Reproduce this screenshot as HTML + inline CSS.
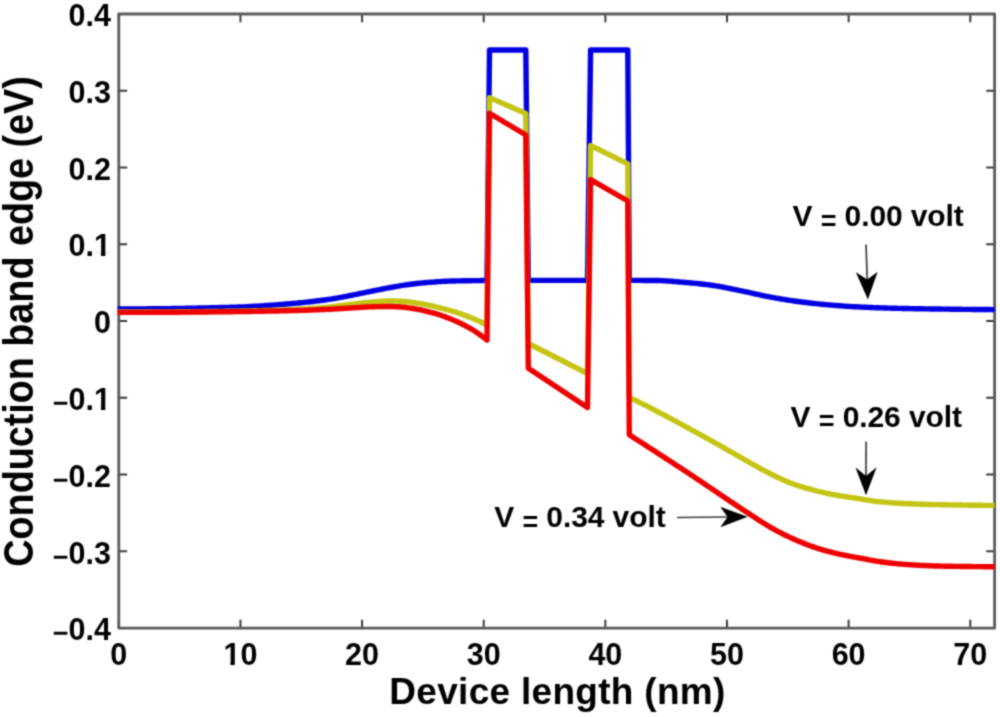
<!DOCTYPE html>
<html><head><meta charset="utf-8"><style>
html,body{margin:0;padding:0;background:#fff;}
svg{display:block;}
text{font-family:"Liberation Sans",Arial,Helvetica,sans-serif;font-weight:bold;fill:#000;}
</style></head><body>
<svg width="1000" height="717" viewBox="0 0 1000 717">
<defs><filter id="soft" filterUnits="userSpaceOnUse" x="0" y="0" width="1000" height="717" color-interpolation-filters="sRGB"><feConvolveMatrix order="3" kernelMatrix="0.0439 0.1217 0.0439 0.1217 0.3377 0.1217 0.0439 0.1217 0.0439" edgeMode="duplicate"/></filter></defs>
<g filter="url(#soft)">
<rect x="0" y="0" width="1000" height="717" fill="#fff"/>
<g stroke="#3a3a3a" stroke-width="2.0" stroke-linecap="round" fill="none">
<line x1="118.80" y1="628.1" x2="118.80" y2="620.5"/><line x1="118.80" y1="14.0" x2="118.80" y2="21.6"/><line x1="240.44" y1="628.1" x2="240.44" y2="620.5"/><line x1="240.44" y1="14.0" x2="240.44" y2="21.6"/><line x1="362.08" y1="628.1" x2="362.08" y2="620.5"/><line x1="362.08" y1="14.0" x2="362.08" y2="21.6"/><line x1="483.72" y1="628.1" x2="483.72" y2="620.5"/><line x1="483.72" y1="14.0" x2="483.72" y2="21.6"/><line x1="605.36" y1="628.1" x2="605.36" y2="620.5"/><line x1="605.36" y1="14.0" x2="605.36" y2="21.6"/><line x1="726.99" y1="628.1" x2="726.99" y2="620.5"/><line x1="726.99" y1="14.0" x2="726.99" y2="21.6"/><line x1="848.63" y1="628.1" x2="848.63" y2="620.5"/><line x1="848.63" y1="14.0" x2="848.63" y2="21.6"/><line x1="970.27" y1="628.1" x2="970.27" y2="620.5"/><line x1="970.27" y1="14.0" x2="970.27" y2="21.6"/><line x1="118.8" y1="14.00" x2="126.40" y2="14.00"/><line x1="994.6" y1="14.00" x2="987.00" y2="14.00"/><line x1="118.8" y1="90.76" x2="126.40" y2="90.76"/><line x1="994.6" y1="90.76" x2="987.00" y2="90.76"/><line x1="118.8" y1="167.53" x2="126.40" y2="167.53"/><line x1="994.6" y1="167.53" x2="987.00" y2="167.53"/><line x1="118.8" y1="244.29" x2="126.40" y2="244.29"/><line x1="994.6" y1="244.29" x2="987.00" y2="244.29"/><line x1="118.8" y1="321.05" x2="126.40" y2="321.05"/><line x1="994.6" y1="321.05" x2="987.00" y2="321.05"/><line x1="118.8" y1="397.81" x2="126.40" y2="397.81"/><line x1="994.6" y1="397.81" x2="987.00" y2="397.81"/><line x1="118.8" y1="474.58" x2="126.40" y2="474.58"/><line x1="994.6" y1="474.58" x2="987.00" y2="474.58"/><line x1="118.8" y1="551.34" x2="126.40" y2="551.34"/><line x1="994.6" y1="551.34" x2="987.00" y2="551.34"/><line x1="118.8" y1="628.10" x2="126.40" y2="628.10"/><line x1="994.6" y1="628.10" x2="987.00" y2="628.10"/>
</g>
<rect x="118.8" y="14.0" width="875.80" height="614.10" stroke-linejoin="round" stroke="#5a5a5a" stroke-width="2.8" fill="none"/>
<g fill="none" stroke-width="5.4" stroke-linejoin="round" stroke-linecap="butt">
<path d="M117.60,309.00 L119.61,309.00 L121.62,308.99 L123.62,308.98 L125.63,308.98 L127.64,308.97 L129.65,308.96 L131.65,308.94 L133.66,308.93 L135.67,308.92 L137.68,308.90 L139.68,308.89 L141.69,308.87 L143.70,308.85 L145.71,308.84 L147.71,308.82 L149.72,308.80 L151.73,308.78 L153.74,308.76 L155.74,308.74 L157.75,308.72 L159.76,308.70 L161.77,308.68 L163.77,308.66 L165.78,308.63 L167.79,308.60 L169.80,308.58 L171.81,308.54 L173.81,308.51 L175.82,308.48 L177.83,308.44 L179.84,308.41 L181.84,308.37 L183.85,308.33 L185.86,308.29 L187.87,308.25 L189.87,308.21 L191.88,308.17 L193.89,308.13 L195.90,308.08 L197.90,308.04 L199.91,308.00 L201.92,307.96 L203.93,307.92 L205.93,307.88 L207.94,307.84 L209.95,307.80 L211.96,307.75 L213.97,307.71 L215.97,307.67 L217.98,307.62 L219.99,307.57 L222.00,307.53 L224.00,307.48 L226.01,307.42 L228.02,307.37 L230.03,307.32 L232.03,307.26 L234.04,307.20 L236.05,307.13 L238.06,307.07 L240.06,307.00 L242.07,306.92 L244.08,306.84 L246.09,306.75 L248.09,306.65 L250.10,306.55 L252.11,306.44 L254.12,306.32 L256.12,306.20 L258.13,306.08 L260.14,305.95 L262.15,305.82 L264.16,305.69 L266.16,305.56 L268.17,305.42 L270.18,305.29 L272.19,305.15 L274.19,305.01 L276.20,304.86 L278.21,304.71 L280.22,304.55 L282.22,304.39 L284.23,304.23 L286.24,304.06 L288.25,303.89 L290.25,303.71 L292.26,303.53 L294.27,303.35 L296.28,303.16 L298.28,302.97 L300.29,302.77 L302.30,302.57 L304.31,302.37 L306.32,302.15 L308.32,301.94 L310.33,301.72 L312.34,301.49 L314.35,301.26 L316.35,301.02 L318.36,300.77 L320.37,300.52 L322.38,300.26 L324.38,299.99 L326.39,299.71 L328.40,299.43 L330.41,299.14 L332.41,298.83 L334.42,298.50 L336.43,298.16 L338.44,297.80 L340.44,297.43 L342.45,297.05 L344.46,296.67 L346.47,296.28 L348.48,295.89 L350.48,295.51 L352.49,295.11 L354.50,294.71 L356.51,294.30 L358.51,293.88 L360.52,293.46 L362.53,293.04 L364.54,292.62 L366.54,292.20 L368.55,291.79 L370.56,291.39 L372.57,290.99 L374.57,290.58 L376.58,290.18 L378.59,289.78 L380.60,289.38 L382.60,288.99 L384.61,288.60 L386.62,288.22 L388.63,287.85 L390.63,287.49 L392.64,287.12 L394.65,286.76 L396.66,286.40 L398.67,286.05 L400.67,285.70 L402.68,285.37 L404.69,285.05 L406.70,284.75 L408.70,284.47 L410.71,284.21 L412.72,283.97 L414.73,283.74 L416.73,283.52 L418.74,283.30 L420.75,283.10 L422.76,282.91 L424.76,282.73 L426.77,282.56 L428.78,282.39 L430.79,282.24 L432.79,282.09 L434.80,281.94 L436.81,281.80 L438.82,281.66 L440.83,281.54 L442.83,281.42 L444.84,281.31 L446.85,281.22 L448.86,281.14 L450.86,281.07 L452.87,281.02 L454.88,280.97 L456.89,280.92 L458.89,280.88 L460.90,280.85 L462.91,280.81 L464.92,280.78 L466.92,280.75 L468.93,280.72 L470.94,280.69 L472.95,280.66 L474.95,280.63 L476.96,280.60 L478.97,280.58 L480.98,280.56 L482.98,280.54 L484.99,280.52 L487.00,280.50 L489.50,50.00 L525.80,50.00 L528.30,280.40 L587.50,280.40 L590.60,50.00 L627.80,50.00 L629.30,280.40 L631.31,280.40 L633.31,280.40 L635.32,280.41 L637.33,280.41 L639.34,280.41 L641.34,280.42 L643.35,280.43 L645.36,280.44 L647.36,280.45 L649.37,280.46 L651.38,280.47 L653.39,280.48 L655.39,280.50 L657.40,280.52 L659.41,280.57 L661.41,280.65 L663.42,280.75 L665.43,280.87 L667.44,281.00 L669.44,281.15 L671.45,281.31 L673.46,281.47 L675.46,281.64 L677.47,281.80 L679.48,281.96 L681.49,282.11 L683.49,282.27 L685.50,282.44 L687.51,282.61 L689.51,282.78 L691.52,282.97 L693.53,283.15 L695.54,283.35 L697.54,283.55 L699.55,283.76 L701.56,283.98 L703.56,284.21 L705.57,284.45 L707.58,284.69 L709.59,284.95 L711.59,285.22 L713.60,285.51 L715.61,285.83 L717.61,286.16 L719.62,286.52 L721.63,286.89 L723.64,287.27 L725.64,287.67 L727.65,288.07 L729.66,288.48 L731.66,288.90 L733.67,289.31 L735.68,289.72 L737.69,290.13 L739.69,290.54 L741.70,290.94 L743.71,291.36 L745.71,291.79 L747.72,292.23 L749.73,292.68 L751.74,293.13 L753.74,293.58 L755.75,294.03 L757.76,294.48 L759.76,294.92 L761.77,295.35 L763.78,295.78 L765.79,296.19 L767.79,296.58 L769.80,296.96 L771.81,297.33 L773.81,297.69 L775.82,298.05 L777.83,298.40 L779.84,298.74 L781.84,299.08 L783.85,299.42 L785.86,299.74 L787.86,300.06 L789.87,300.37 L791.88,300.68 L793.89,300.97 L795.89,301.25 L797.90,301.53 L799.91,301.79 L801.91,302.04 L803.92,302.29 L805.93,302.54 L807.94,302.78 L809.94,303.01 L811.95,303.24 L813.96,303.46 L815.96,303.68 L817.97,303.88 L819.98,304.09 L821.99,304.28 L823.99,304.47 L826.00,304.66 L828.01,304.83 L830.01,305.00 L832.02,305.16 L834.03,305.32 L836.04,305.48 L838.04,305.63 L840.05,305.78 L842.06,305.93 L844.06,306.07 L846.07,306.20 L848.08,306.34 L850.09,306.46 L852.09,306.58 L854.10,306.70 L856.11,306.81 L858.11,306.91 L860.12,307.01 L862.13,307.10 L864.14,307.19 L866.14,307.28 L868.15,307.36 L870.16,307.45 L872.16,307.53 L874.17,307.61 L876.18,307.69 L878.19,307.76 L880.19,307.83 L882.20,307.90 L884.21,307.97 L886.21,308.03 L888.22,308.09 L890.23,308.15 L892.24,308.21 L894.24,308.26 L896.25,308.31 L898.26,308.36 L900.26,308.41 L902.27,308.45 L904.28,308.49 L906.29,308.53 L908.29,308.57 L910.30,308.61 L912.31,308.64 L914.31,308.68 L916.32,308.72 L918.33,308.75 L920.34,308.78 L922.34,308.82 L924.35,308.85 L926.36,308.88 L928.36,308.91 L930.37,308.94 L932.38,308.97 L934.39,308.99 L936.39,309.02 L938.40,309.05 L940.41,309.07 L942.41,309.10 L944.42,309.12 L946.43,309.15 L948.44,309.17 L950.44,309.19 L952.45,309.22 L954.46,309.24 L956.46,309.26 L958.47,309.28 L960.48,309.31 L962.49,309.33 L964.49,309.35 L966.50,309.37 L968.51,309.39 L970.51,309.41 L972.52,309.43 L974.53,309.44 L976.54,309.46 L978.54,309.48 L980.55,309.50 L982.56,309.51 L984.56,309.53 L986.57,309.54 L988.58,309.56 L990.59,309.57 L992.59,309.59 L994.60,309.60" stroke="#0000e2"/>
<path d="M117.60,312.00 L119.61,312.00 L121.62,312.00 L123.62,312.00 L125.63,312.00 L127.64,311.99 L129.65,311.99 L131.65,311.99 L133.66,311.98 L135.67,311.98 L137.68,311.97 L139.68,311.97 L141.69,311.96 L143.70,311.96 L145.71,311.95 L147.71,311.94 L149.72,311.94 L151.73,311.93 L153.74,311.92 L155.74,311.92 L157.75,311.91 L159.76,311.90 L161.77,311.89 L163.77,311.88 L165.78,311.87 L167.79,311.86 L169.80,311.85 L171.81,311.84 L173.81,311.83 L175.82,311.81 L177.83,311.80 L179.84,311.78 L181.84,311.76 L183.85,311.75 L185.86,311.73 L187.87,311.71 L189.87,311.69 L191.88,311.68 L193.89,311.66 L195.90,311.64 L197.90,311.62 L199.91,311.60 L201.92,311.58 L203.93,311.56 L205.93,311.54 L207.94,311.52 L209.95,311.50 L211.96,311.48 L213.97,311.46 L215.97,311.43 L217.98,311.41 L219.99,311.39 L222.00,311.36 L224.00,311.34 L226.01,311.31 L228.02,311.28 L230.03,311.25 L232.03,311.22 L234.04,311.19 L236.05,311.16 L238.06,311.13 L240.06,311.10 L242.07,311.06 L244.08,311.03 L246.09,310.99 L248.09,310.95 L250.10,310.91 L252.11,310.86 L254.12,310.82 L256.12,310.77 L258.13,310.72 L260.14,310.67 L262.15,310.62 L264.16,310.57 L266.16,310.51 L268.17,310.45 L270.18,310.39 L272.19,310.33 L274.19,310.27 L276.20,310.20 L278.21,310.14 L280.22,310.07 L282.22,309.99 L284.23,309.91 L286.24,309.83 L288.25,309.75 L290.25,309.66 L292.26,309.58 L294.27,309.48 L296.28,309.39 L298.28,309.29 L300.29,309.18 L302.30,309.08 L304.31,308.96 L306.32,308.85 L308.32,308.72 L310.33,308.59 L312.34,308.45 L314.35,308.31 L316.35,308.16 L318.36,308.01 L320.37,307.85 L322.38,307.68 L324.38,307.51 L326.39,307.33 L328.40,307.15 L330.41,306.96 L332.41,306.75 L334.42,306.51 L336.43,306.25 L338.44,305.97 L340.44,305.69 L342.45,305.40 L344.46,305.12 L346.47,304.84 L348.48,304.58 L350.48,304.34 L352.49,304.11 L354.50,303.87 L356.51,303.64 L358.51,303.40 L360.52,303.17 L362.53,302.95 L364.54,302.73 L366.54,302.53 L368.55,302.33 L370.56,302.15 L372.57,301.98 L374.57,301.83 L376.58,301.69 L378.59,301.54 L380.60,301.40 L382.60,301.26 L384.61,301.15 L386.62,301.06 L388.63,301.01 L390.63,301.00 L392.64,301.02 L394.65,301.05 L396.66,301.10 L398.67,301.16 L400.67,301.22 L402.68,301.33 L404.69,301.49 L406.70,301.69 L408.70,301.93 L410.71,302.19 L412.72,302.48 L414.73,302.78 L416.73,303.09 L418.74,303.40 L420.75,303.72 L422.76,304.06 L424.76,304.43 L426.77,304.83 L428.78,305.26 L430.79,305.71 L432.79,306.17 L434.80,306.64 L436.81,307.13 L438.82,307.61 L440.83,308.10 L442.83,308.60 L444.84,309.12 L446.85,309.65 L448.86,310.20 L450.86,310.77 L452.87,311.36 L454.88,311.96 L456.89,312.59 L458.89,313.25 L460.90,313.93 L462.91,314.63 L464.92,315.36 L466.92,316.11 L468.93,316.88 L470.94,317.68 L472.95,318.50 L474.95,319.35 L476.96,320.23 L478.97,321.13 L480.98,322.06 L482.98,323.02 L484.99,324.00 L487.00,325.00 L489.50,97.60 L525.80,113.50 L528.30,343.50 L587.50,373.50 L590.60,145.50 L627.80,163.80 L629.30,397.30 L631.31,398.29 L633.31,399.29 L635.32,400.29 L637.33,401.29 L639.34,402.30 L641.34,403.32 L643.35,404.33 L645.36,405.35 L647.36,406.37 L649.37,407.40 L651.38,408.43 L653.39,409.47 L655.39,410.50 L657.40,411.55 L659.41,412.59 L661.41,413.64 L663.42,414.69 L665.43,415.75 L667.44,416.82 L669.44,417.89 L671.45,418.96 L673.46,420.04 L675.46,421.12 L677.47,422.20 L679.48,423.29 L681.49,424.38 L683.49,425.46 L685.50,426.55 L687.51,427.65 L689.51,428.74 L691.52,429.83 L693.53,430.92 L695.54,432.01 L697.54,433.11 L699.55,434.21 L701.56,435.31 L703.56,436.41 L705.57,437.52 L707.58,438.62 L709.59,439.74 L711.59,440.85 L713.60,441.98 L715.61,443.10 L717.61,444.24 L719.62,445.38 L721.63,446.52 L723.64,447.67 L725.64,448.83 L727.65,449.98 L729.66,451.13 L731.66,452.28 L733.67,453.43 L735.68,454.58 L737.69,455.72 L739.69,456.86 L741.70,458.00 L743.71,459.15 L745.71,460.30 L747.72,461.44 L749.73,462.59 L751.74,463.73 L753.74,464.86 L755.75,465.98 L757.76,467.09 L759.76,468.19 L761.77,469.28 L763.78,470.35 L765.79,471.41 L767.79,472.46 L769.80,473.50 L771.81,474.51 L773.81,475.51 L775.82,476.49 L777.83,477.47 L779.84,478.43 L781.84,479.37 L783.85,480.28 L785.86,481.14 L787.86,481.96 L789.87,482.76 L791.88,483.54 L793.89,484.28 L795.89,484.99 L797.90,485.67 L799.91,486.31 L801.91,486.93 L803.92,487.52 L805.93,488.10 L807.94,488.65 L809.94,489.18 L811.95,489.71 L813.96,490.24 L815.96,490.75 L817.97,491.26 L819.98,491.75 L821.99,492.24 L823.99,492.71 L826.00,493.16 L828.01,493.60 L830.01,494.01 L832.02,494.40 L834.03,494.78 L836.04,495.13 L838.04,495.47 L840.05,495.80 L842.06,496.11 L844.06,496.42 L846.07,496.72 L848.08,497.02 L850.09,497.31 L852.09,497.61 L854.10,497.91 L856.11,498.22 L858.11,498.53 L860.12,498.86 L862.13,499.20 L864.14,499.54 L866.14,499.87 L868.15,500.21 L870.16,500.53 L872.16,500.83 L874.17,501.12 L876.18,501.38 L878.19,501.62 L880.19,501.82 L882.20,502.00 L884.21,502.18 L886.21,502.35 L888.22,502.51 L890.23,502.66 L892.24,502.81 L894.24,502.95 L896.25,503.08 L898.26,503.20 L900.26,503.32 L902.27,503.43 L904.28,503.54 L906.29,503.64 L908.29,503.73 L910.30,503.81 L912.31,503.89 L914.31,503.97 L916.32,504.05 L918.33,504.12 L920.34,504.19 L922.34,504.25 L924.35,504.32 L926.36,504.38 L928.36,504.43 L930.37,504.49 L932.38,504.54 L934.39,504.58 L936.39,504.63 L938.40,504.67 L940.41,504.71 L942.41,504.75 L944.42,504.78 L946.43,504.82 L948.44,504.86 L950.44,504.89 L952.45,504.93 L954.46,504.96 L956.46,505.00 L958.47,505.03 L960.48,505.06 L962.49,505.09 L964.49,505.12 L966.50,505.15 L968.51,505.18 L970.51,505.21 L972.52,505.24 L974.53,505.26 L976.54,505.28 L978.54,505.30 L980.55,505.32 L982.56,505.34 L984.56,505.35 L986.57,505.37 L988.58,505.38 L990.59,505.39 L992.59,505.40 L994.60,505.40" stroke="#c4c414"/>
<path d="M117.60,312.40 L119.61,312.40 L121.62,312.40 L123.62,312.40 L125.63,312.40 L127.64,312.39 L129.65,312.39 L131.65,312.39 L133.66,312.38 L135.67,312.38 L137.68,312.37 L139.68,312.37 L141.69,312.36 L143.70,312.36 L145.71,312.35 L147.71,312.34 L149.72,312.34 L151.73,312.33 L153.74,312.32 L155.74,312.32 L157.75,312.31 L159.76,312.30 L161.77,312.29 L163.77,312.28 L165.78,312.27 L167.79,312.26 L169.80,312.25 L171.81,312.24 L173.81,312.22 L175.82,312.21 L177.83,312.19 L179.84,312.18 L181.84,312.16 L183.85,312.14 L185.86,312.12 L187.87,312.11 L189.87,312.09 L191.88,312.07 L193.89,312.05 L195.90,312.04 L197.90,312.02 L199.91,312.00 L201.92,311.98 L203.93,311.97 L205.93,311.95 L207.94,311.93 L209.95,311.91 L211.96,311.90 L213.97,311.88 L215.97,311.86 L217.98,311.84 L219.99,311.82 L222.00,311.80 L224.00,311.78 L226.01,311.76 L228.02,311.74 L230.03,311.72 L232.03,311.70 L234.04,311.67 L236.05,311.65 L238.06,311.62 L240.06,311.60 L242.07,311.57 L244.08,311.55 L246.09,311.52 L248.09,311.49 L250.10,311.46 L252.11,311.42 L254.12,311.39 L256.12,311.36 L258.13,311.32 L260.14,311.29 L262.15,311.25 L264.16,311.21 L266.16,311.17 L268.17,311.14 L270.18,311.10 L272.19,311.06 L274.19,311.02 L276.20,310.98 L278.21,310.94 L280.22,310.89 L282.22,310.85 L284.23,310.81 L286.24,310.76 L288.25,310.71 L290.25,310.66 L292.26,310.61 L294.27,310.56 L296.28,310.51 L298.28,310.45 L300.29,310.39 L302.30,310.33 L304.31,310.27 L306.32,310.20 L308.32,310.13 L310.33,310.05 L312.34,309.98 L314.35,309.90 L316.35,309.82 L318.36,309.73 L320.37,309.65 L322.38,309.56 L324.38,309.47 L326.39,309.37 L328.40,309.28 L330.41,309.18 L332.41,309.08 L334.42,308.96 L336.43,308.84 L338.44,308.72 L340.44,308.59 L342.45,308.46 L344.46,308.33 L346.47,308.21 L348.48,308.09 L350.48,307.97 L352.49,307.86 L354.50,307.73 L356.51,307.61 L358.51,307.48 L360.52,307.36 L362.53,307.24 L364.54,307.12 L366.54,307.01 L368.55,306.92 L370.56,306.83 L372.57,306.76 L374.57,306.71 L376.58,306.67 L378.59,306.63 L380.60,306.59 L382.60,306.56 L384.61,306.53 L386.62,306.51 L388.63,306.50 L390.63,306.50 L392.64,306.54 L394.65,306.61 L396.66,306.71 L398.67,306.82 L400.67,306.94 L402.68,307.10 L404.69,307.31 L406.70,307.55 L408.70,307.84 L410.71,308.14 L412.72,308.48 L414.73,308.83 L416.73,309.19 L418.74,309.57 L420.75,309.94 L422.76,310.35 L424.76,310.79 L426.77,311.26 L428.78,311.76 L430.79,312.29 L432.79,312.85 L434.80,313.42 L436.81,314.02 L438.82,314.63 L440.83,315.26 L442.83,315.94 L444.84,316.66 L446.85,317.42 L448.86,318.21 L450.86,319.03 L452.87,319.88 L454.88,320.75 L456.89,321.63 L458.89,322.55 L460.90,323.50 L462.91,324.49 L464.92,325.51 L466.92,326.58 L468.93,327.69 L470.94,328.85 L472.95,330.06 L474.95,331.33 L476.96,332.65 L478.97,334.03 L480.98,335.45 L482.98,336.92 L484.99,338.44 L487.00,340.00 L489.50,113.20 L525.80,135.00 L528.30,368.30 L587.50,407.50 L590.60,179.60 L627.80,201.00 L629.30,434.80 L631.31,436.09 L633.31,437.37 L635.32,438.66 L637.33,439.95 L639.34,441.24 L641.34,442.54 L643.35,443.83 L645.36,445.12 L647.36,446.42 L649.37,447.72 L651.38,449.01 L653.39,450.31 L655.39,451.61 L657.40,452.91 L659.41,454.22 L661.41,455.52 L663.42,456.82 L665.43,458.12 L667.44,459.43 L669.44,460.73 L671.45,462.04 L673.46,463.34 L675.46,464.65 L677.47,465.96 L679.48,467.27 L681.49,468.59 L683.49,469.90 L685.50,471.23 L687.51,472.55 L689.51,473.88 L691.52,475.21 L693.53,476.55 L695.54,477.89 L697.54,479.24 L699.55,480.59 L701.56,481.94 L703.56,483.30 L705.57,484.66 L707.58,486.01 L709.59,487.37 L711.59,488.73 L713.60,490.09 L715.61,491.44 L717.61,492.80 L719.62,494.15 L721.63,495.49 L723.64,496.85 L725.64,498.20 L727.65,499.55 L729.66,500.90 L731.66,502.25 L733.67,503.60 L735.68,504.94 L737.69,506.27 L739.69,507.60 L741.70,508.92 L743.71,510.22 L745.71,511.52 L747.72,512.82 L749.73,514.12 L751.74,515.43 L753.74,516.76 L755.75,518.09 L757.76,519.41 L759.76,520.72 L761.77,522.01 L763.78,523.26 L765.79,524.49 L767.79,525.70 L769.80,526.89 L771.81,528.05 L773.81,529.19 L775.82,530.30 L777.83,531.38 L779.84,532.44 L781.84,533.48 L783.85,534.49 L785.86,535.47 L787.86,536.44 L789.87,537.38 L791.88,538.29 L793.89,539.19 L795.89,540.07 L797.90,540.93 L799.91,541.76 L801.91,542.58 L803.92,543.38 L805.93,544.16 L807.94,544.92 L809.94,545.66 L811.95,546.38 L813.96,547.08 L815.96,547.77 L817.97,548.44 L819.98,549.08 L821.99,549.70 L823.99,550.30 L826.00,550.87 L828.01,551.41 L830.01,551.94 L832.02,552.45 L834.03,552.94 L836.04,553.41 L838.04,553.86 L840.05,554.30 L842.06,554.72 L844.06,555.12 L846.07,555.52 L848.08,555.92 L850.09,556.30 L852.09,556.67 L854.10,557.04 L856.11,557.40 L858.11,557.76 L860.12,558.12 L862.13,558.50 L864.14,558.88 L866.14,559.27 L868.15,559.66 L870.16,560.04 L872.16,560.42 L874.17,560.78 L876.18,561.12 L878.19,561.44 L880.19,561.73 L882.20,562.00 L884.21,562.26 L886.21,562.51 L888.22,562.76 L890.23,563.00 L892.24,563.22 L894.24,563.44 L896.25,563.64 L898.26,563.83 L900.26,564.01 L902.27,564.17 L904.28,564.32 L906.29,564.46 L908.29,564.60 L910.30,564.73 L912.31,564.86 L914.31,564.99 L916.32,565.11 L918.33,565.23 L920.34,565.34 L922.34,565.45 L924.35,565.55 L926.36,565.65 L928.36,565.74 L930.37,565.82 L932.38,565.89 L934.39,565.96 L936.39,566.02 L938.40,566.07 L940.41,566.11 L942.41,566.14 L944.42,566.18 L946.43,566.22 L948.44,566.25 L950.44,566.29 L952.45,566.32 L954.46,566.35 L956.46,566.38 L958.47,566.41 L960.48,566.44 L962.49,566.47 L964.49,566.49 L966.50,566.52 L968.51,566.54 L970.51,566.56 L972.52,566.59 L974.53,566.60 L976.54,566.62 L978.54,566.64 L980.55,566.65 L982.56,566.66 L984.56,566.68 L986.57,566.68 L988.58,566.69 L990.59,566.70 L992.59,566.70 L994.60,566.70" stroke="#ee0000"/>
</g>
<g style="font-size:30.5px">
<text x="118.80" y="665.2" text-anchor="middle">0</text><text x="240.44" y="665.2" text-anchor="middle">10</text><text x="362.08" y="665.2" text-anchor="middle">20</text><text x="483.72" y="665.2" text-anchor="middle">30</text><text x="605.36" y="665.2" text-anchor="middle">40</text><text x="726.99" y="665.2" text-anchor="middle">50</text><text x="848.63" y="665.2" text-anchor="middle">60</text><text x="970.27" y="665.2" text-anchor="middle">70</text><text x="111" y="26.20" text-anchor="end">0.4</text><text x="111" y="102.96" text-anchor="end">0.3</text><text x="111" y="179.72" text-anchor="end">0.2</text><text x="111" y="256.49" text-anchor="end">0.1</text><text x="111" y="333.25" text-anchor="end">0</text><text x="111" y="410.01" text-anchor="end"><tspan dy="2" style="font-size:27px">−</tspan><tspan dy="-2">0.1</tspan></text><text x="111" y="486.78" text-anchor="end"><tspan dy="2" style="font-size:27px">−</tspan><tspan dy="-2">0.2</tspan></text><text x="111" y="563.54" text-anchor="end"><tspan dy="2" style="font-size:27px">−</tspan><tspan dy="-2">0.3</tspan></text><text x="111" y="640.30" text-anchor="end"><tspan dy="2" style="font-size:27px">−</tspan><tspan dy="-2">0.4</tspan></text>
</g>
<rect x="223.47" y="661.08" width="6.95" height="6.12" fill="#fff"/><rect x="234.82" y="661.08" width="5.73" height="6.12" fill="#fff"/><rect x="94.02" y="252.37" width="6.95" height="6.12" fill="#fff"/><rect x="105.37" y="252.37" width="5.73" height="6.12" fill="#fff"/><rect x="94.02" y="405.89" width="6.95" height="6.12" fill="#fff"/><rect x="105.37" y="405.89" width="5.73" height="6.12" fill="#fff"/>
<text x="557.5" y="704.2" text-anchor="middle" style="font-size:37px;letter-spacing:0.3px">Device length (nm)</text>
<text transform="translate(33.3,321.5) rotate(-90) scale(0.89,1)" x="0" y="0" text-anchor="middle" style="font-size:42.4px">Conduction band edge (eV)</text>
<g style="font-size:30px;letter-spacing:-0.1px">
<text x="792.5" y="226.4">V <tspan dy="3.6" style="font-size:27px">=</tspan><tspan dy="-3.6"> 0.00 volt</tspan></text>
<text x="790.6" y="426.8">V <tspan dy="3.6" style="font-size:27px">=</tspan><tspan dy="-3.6"> 0.26 volt</tspan></text>
<text x="494.3" y="527">V <tspan dy="3.6" style="font-size:27px">=</tspan><tspan dy="-3.6"> 0.34 volt</tspan></text>
</g>
<line x1="866.05" y1="244.5" x2="867.2" y2="279.5" stroke="#3c3c3c" stroke-width="1.7"/><path d="M867.9,299.4 L855.9,272.2 L867.2,279.5 L877.7,271.8 Z" fill="#000"/><line x1="866.1" y1="441.5" x2="866.0" y2="476.0" stroke="#3c3c3c" stroke-width="1.7"/><path d="M866.0,495.2 L855.4,467.2 L866.0,476.0 L876.6,467.2 Z" fill="#000"/><line x1="677" y1="517.5" x2="727.5" y2="517" stroke="#3c3c3c" stroke-width="1.7"/><path d="M747.6,516.8 L720.3,506.8 L727.5,517 L720.3,527.3 Z" fill="#000"/>
</g>
</svg>
</body></html>
